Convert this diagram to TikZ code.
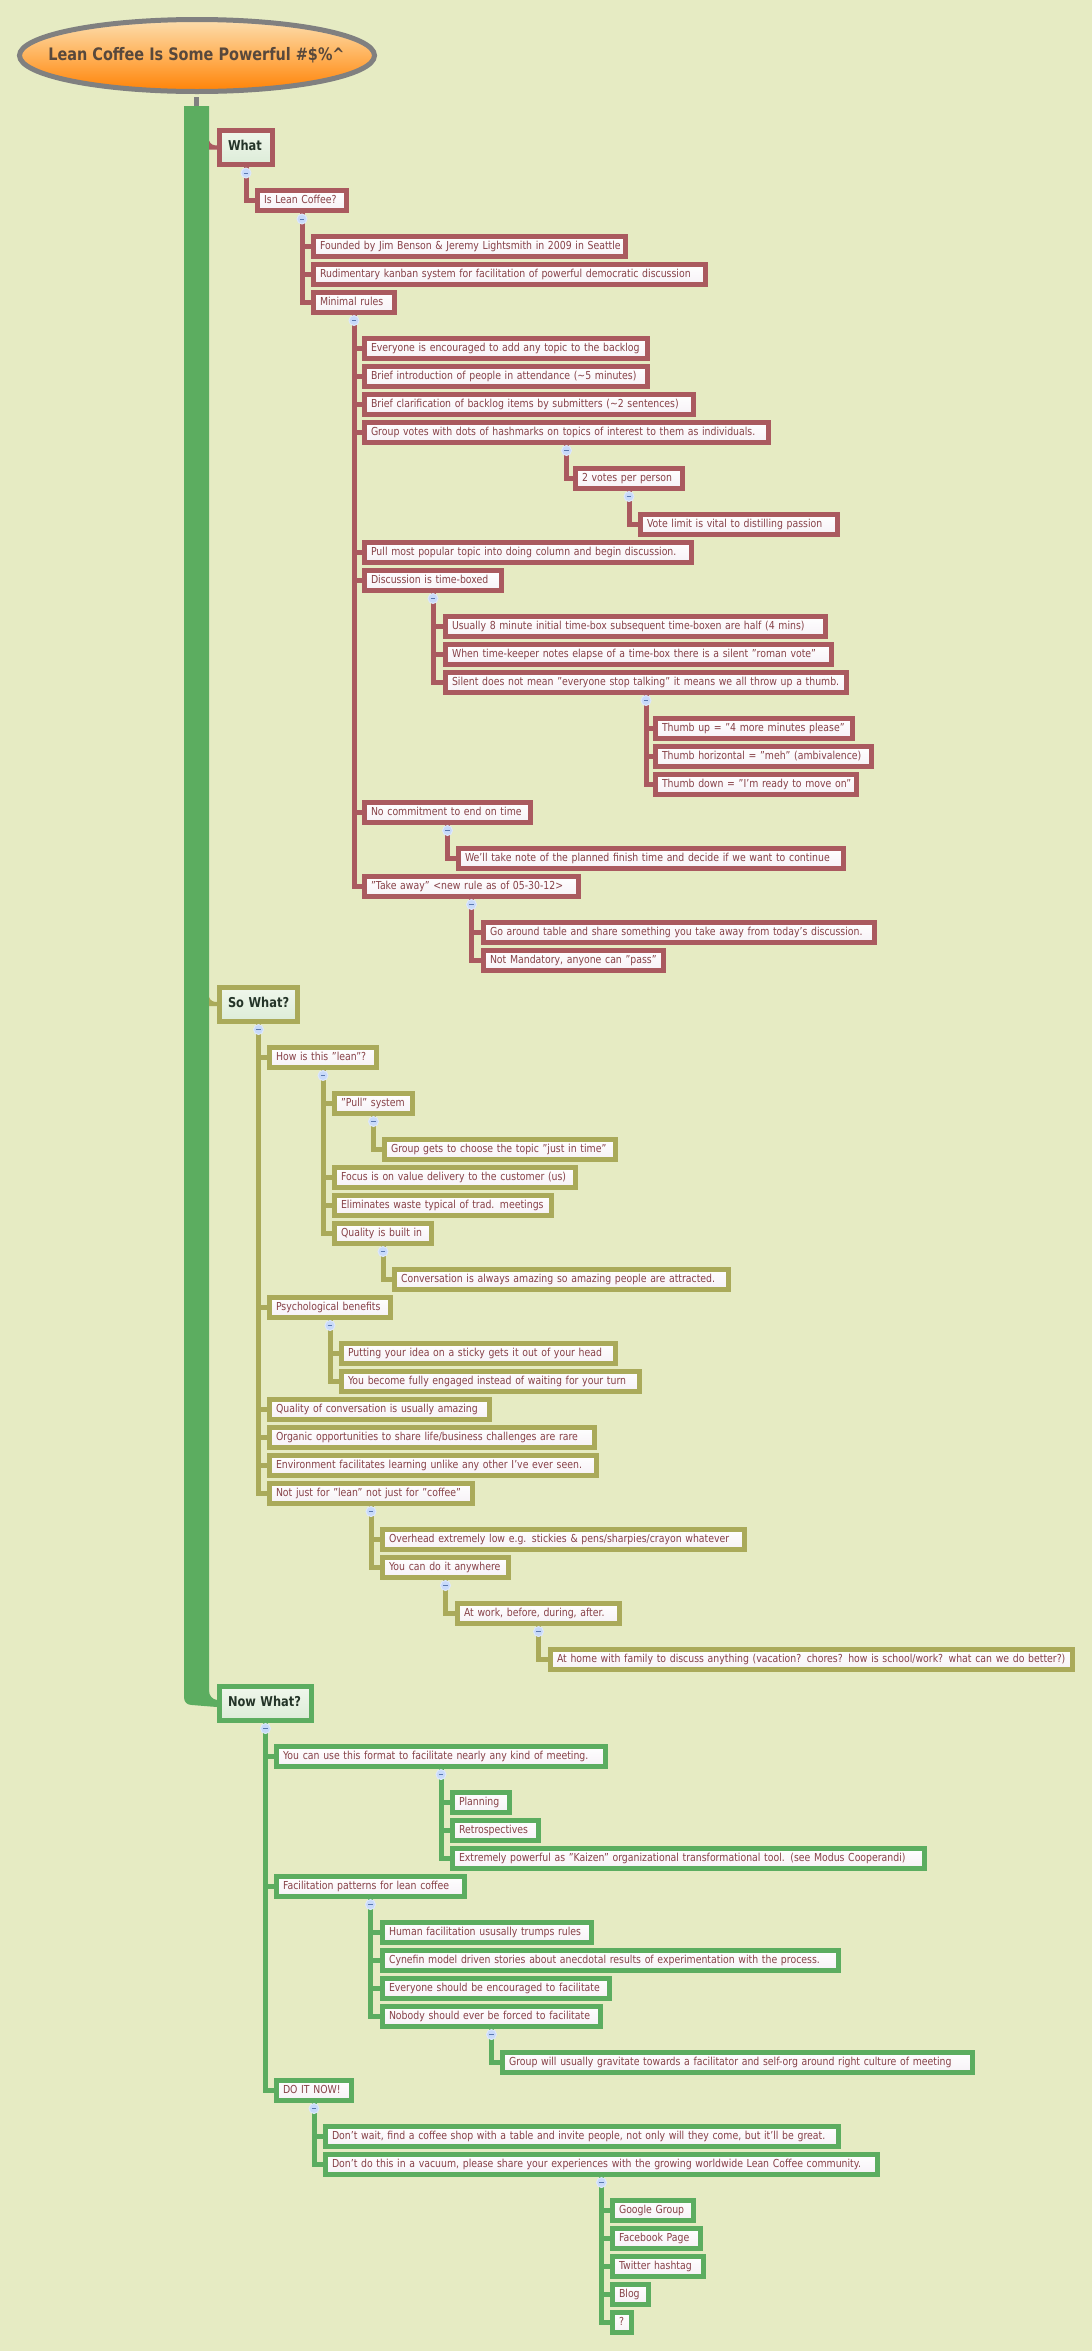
\documentclass[tikz,border=0pt]{standalone}
\usepackage{fontspec}
\setmainfont{DejaVu Sans}[FakeStretch=0.85]
\newfontfamily\headfont{DejaVu Sans Bold}[FakeStretch=0.84]
\usetikzlibrary{shapes.geometric}
\definecolor{paper}{RGB}{230,235,195}
\definecolor{redline}{RGB}{170,90,95}
\definecolor{oliveline}{RGB}{170,170,90}
\definecolor{greenline}{RGB}{92,173,96}
\definecolor{rootline}{RGB}{128,128,128}
\definecolor{subtext}{RGB}{135,66,72}
\definecolor{subshade}{RGB}{246,241,246}
\definecolor{roottop}{RGB}{252,222,175}
\definecolor{rootmid}{RGB}{255,178,90}
\definecolor{rootlow}{RGB}{255,130,5}
\definecolor{roottext}{RGB}{88,72,60}
\definecolor{headtop}{RGB}{240,247,236}
\definecolor{headlow}{RGB}{220,236,216}
\definecolor{headtext}{RGB}{36,52,40}
\definecolor{btnfill}{RGB}{200,218,250}
\definecolor{btnline}{RGB}{222,232,250}
\definecolor{btnminus}{RGB}{90,120,175}
\tikzset{
    root/.style={ellipse, draw=rootline, line width=2.5pt, inner sep=0pt, minimum width=177.5pt, minimum height=36pt,
        top color=roottop, bottom color=rootlow, middle color=rootmid},
    roottitle/.style={inner sep=0pt, text=roottext, font=\headfont\fontsize{8.6}{10}\selectfont},
    head/.style={draw=#1, line width=2.5pt, anchor=west, inner xsep=4.25pt, inner ysep=0pt, minimum height=17pt,
        text depth=2pt, text height=5pt, top color=headtop, bottom color=headlow, text=headtext,
        font=\headfont\fontsize{6.8}{9}\selectfont,
        execute at begin node=\hbox\bgroup, execute at end node=\egroup},
    sub/.style={draw=#1, line width=2.5pt, anchor=west, inner xsep=3.25pt, inner ysep=0pt, minimum height=10pt,
        text depth=2pt, text height=5pt, top color=white, bottom color=subshade, text=subtext,
        font=\fontsize{5.5}{6.5}\selectfont,
        execute at begin node=\hbox\bgroup, execute at end node=\egroup},
    wide/.style={text width=(#1-18)*.5pt},
    headwide/.style={text width=(#1-22)*.5pt},
    toggle/.style={circle, draw=btnline, line width=.5pt, fill=btnfill, inner sep=0pt, minimum size=5pt,
        path picture={\draw[btnminus, line width=.35pt] ([xshift=-1.1pt]path picture bounding box.center) -- ([xshift=1.1pt]path picture bounding box.center);}},
}
\begin{document}
\begin{tikzpicture}[x=.5pt, y=-.5pt]
    \useasboundingbox (0,0) rectangle (1092,2351);
    \fill[paper] (0,0) rectangle (1092,2351);

    % trunk
    \node[root] (lean) at (197,55.5) {};
    \node[roottitle] (leantitle) at (196.5,55) {Lean Coffee Is Some Powerful \#\$\%\^{}};
    \coordinate (trunktop) at (196,106);
    \draw[rootline, line width=2.5pt, shorten <=1.5pt] (lean.south -| trunktop) -- (trunktop);

    \node[head=redline, headwide=58] (what) at (217,147.5) {What};
    \node[head=oliveline, headwide=83] (sowhat) at (217,1004) {So What?};
    \node[head=greenline, headwide=97] (nowwhat) at (217,1703) {Now What?};

    \fill[greenline] (184,106) -- (209,106) -- (209,1690) .. controls (209,1696) and (212,1699) .. ([yshift=1.5pt]nowwhat.west)
        -- ([yshift=-1pt]nowwhat.west |- 0,1705) -- (192,1705) .. controls (187,1705) and (184,1702) .. (184,1697) -- cycle;
    \fill[redline] ([shift={(-8,-7)}]what.west) .. controls ([shift={(-7,-3)}]what.west) and ([shift={(-3,-2)}]what.west) .. ([shift={(0,-2)}]what.west)
        -- ([shift={(0,2)}]what.west) -- ([shift={(-8,2)}]what.west) -- cycle;
    \fill[oliveline] ([shift={(-8,-7)}]sowhat.west) .. controls ([shift={(-7,-3)}]sowhat.west) and ([shift={(-3,-2)}]sowhat.west) .. ([shift={(0,-2)}]sowhat.west)
        -- ([shift={(0,2)}]sowhat.west) -- ([shift={(-8,2)}]sowhat.west) -- cycle;

    % what
    \node[sub=redline, wide=94] (islean) at (255,200.5) {Is Lean Coffee?};
    \node[sub=redline, wide=317] (founded) at (311,246) {Founded by Jim Benson \& Jeremy Lightsmith in 2009 in Seattle};
    \node[sub=redline, wide=397] (kanban) at (311,274) {Rudimentary kanban system for facilitation of powerful democratic discussion};
    \node[sub=redline, wide=86] (minimal) at (311,302) {Minimal rules};
    \node[sub=redline, wide=288] (anytopic) at (362,348) {Everyone is encouraged to add any topic to the backlog};
    \node[sub=redline, wide=288] (intro) at (362,376) {Brief introduction of people in attendance (\textasciitilde5 minutes)};
    \node[sub=redline, wide=334] (clarify) at (362,404) {Brief clarification of backlog items by submitters (\textasciitilde2 sentences)};
    \node[sub=redline, wide=409] (votes) at (362,432) {Group votes with dots of hashmarks on topics of interest to them as individuals.};
    \node[sub=redline, wide=112] (twovotes) at (573,478) {2 votes per person};
    \node[sub=redline, wide=202] (limit) at (638,524) {Vote limit is vital to distilling passion};
    \node[sub=redline, wide=332] (pull) at (362,552) {Pull most popular topic into doing column and begin discussion.};
    \node[sub=redline, wide=142] (boxed) at (362,580) {Discussion is time-boxed};
    \node[sub=redline, wide=385] (usually) at (443,626) {Usually 8 minute initial time-box subsequent time-boxen are half (4 mins)};
    \node[sub=redline, wide=391] (keeper) at (443,654) {When time-keeper notes elapse of a time-box there is a silent "roman vote"};
    \node[sub=redline, wide=406] (silent) at (443,682) {Silent does not mean "everyone stop talking" it means we all throw up a thumb.};
    \node[sub=redline, wide=202] (thumbup) at (653,728) {Thumb up = "4 more minutes please"};
    \node[sub=redline, wide=221] (thumbside) at (653,756) {Thumb horizontal = "meh" (ambivalence)};
    \node[sub=redline, wide=206] (thumbdown) at (653,784) {Thumb down = "I'm ready to move on"};
    \node[sub=redline, wide=171] (nocommit) at (362,812) {No commitment to end on time};
    \node[sub=redline, wide=390] (finish) at (456,858) {We'll take note of the planned finish time and decide if we want to continue};
    \node[sub=redline, wide=219] (takeaway) at (362,886) {"Take away" <new rule as of 05-30-12>};
    \node[sub=redline, wide=396] (goaround) at (481,932) {Go around table and share something you take away from today's discussion.};
    \node[sub=redline, wide=185] (mandatory) at (481,960) {Not Mandatory, anyone can "pass"};

    % so what
    \node[sub=oliveline, wide=112] (howlean) at (267,1057) {How is this "lean"?};
    \node[sub=oliveline, wide=83] (pullsys) at (332,1103) {"Pull" system};
    \node[sub=oliveline, wide=236] (choose) at (382,1149) {Group gets to choose the topic "just in time"};
    \node[sub=oliveline, wide=246] (focus) at (332,1177) {Focus is on value delivery to the customer (us)};
    \node[sub=oliveline, wide=222] (waste) at (332,1205) {Eliminates waste typical of trad. meetings};
    \node[sub=oliveline, wide=102] (builtin) at (332,1233) {Quality is built in};
    \node[sub=oliveline, wide=339] (amazing) at (392,1279) {Conversation is always amazing so amazing people are attracted.};
    \node[sub=oliveline, wide=126] (psych) at (267,1307) {Psychological benefits};
    \node[sub=oliveline, wide=279] (sticky) at (339,1353) {Putting your idea on a sticky gets it out of your head};
    \node[sub=oliveline, wide=303] (engaged) at (339,1381) {You become fully engaged instead of waiting for your turn};
    \node[sub=oliveline, wide=225] (quality) at (267,1409) {Quality of conversation is usually amazing};
    \node[sub=oliveline, wide=330] (organic) at (267,1437) {Organic opportunities to share life/business challenges are rare};
    \node[sub=oliveline, wide=332] (environ) at (267,1465) {Environment facilitates learning unlike any other I've ever seen.};
    \node[sub=oliveline, wide=208] (notjust) at (267,1493) {Not just for "lean" not just for "coffee"};
    \node[sub=oliveline, wide=367] (overhead) at (380,1539) {Overhead extremely low e.g. stickies \& pens/sharpies/crayon whatever};
    \node[sub=oliveline, wide=131] (anywhere) at (380,1567) {You can do it anywhere};
    \node[sub=oliveline, wide=167] (atwork) at (455,1613) {At work, before, during, after.};
    \node[sub=oliveline, wide=527] (athome) at (548,1659) {At home with family to discuss anything (vacation? chores? how is school/work? what can we do better?)};

    % now what
    \node[sub=greenline, wide=334] (format) at (274,1756) {You can use this format to facilitate nearly any kind of meeting.};
    \node[sub=greenline, wide=62] (planning) at (450,1802) {Planning};
    \node[sub=greenline, wide=91] (retro) at (450,1830) {Retrospectives};
    \node[sub=greenline, wide=477] (kaizen) at (450,1858) {Extremely powerful as "Kaizen" organizational transformational tool. (see Modus Cooperandi)};
    \node[sub=greenline, wide=193] (patterns) at (274,1886) {Facilitation patterns for lean coffee};
    \node[sub=greenline, wide=214] (human) at (380,1932) {Human facilitation ususally trumps rules};
    \node[sub=greenline, wide=461] (cynefin) at (380,1960) {Cynefin model driven stories about anecdotal results of experimentation with the process.};
    \node[sub=greenline, wide=232] (encouraged) at (380,1988) {Everyone should be encouraged to facilitate};
    \node[sub=greenline, wide=223] (nobody) at (380,2016) {Nobody should ever be forced to facilitate};
    \node[sub=greenline, wide=475] (gravitate) at (500,2062) {Group will usually gravitate towards a facilitator and self-org around right culture of meeting};
    \node[sub=greenline, wide=80] (doitnow) at (274,2090) {DO IT NOW!};
    \node[sub=greenline, wide=518] (dontwait) at (323,2136) {Don't wait, find a coffee shop with a table and invite people, not only will they come, but it'll be great.};
    \node[sub=greenline, wide=557] (vacuum) at (323,2164) {Don't do this in a vacuum, please share your experiences with the growing worldwide Lean Coffee community.};
    \node[sub=greenline, wide=86] (google) at (610,2210) {Google Group};
    \node[sub=greenline, wide=93] (facebook) at (610,2238) {Facebook Page};
    \node[sub=greenline, wide=96] (twitter) at (610,2266) {Twitter hashtag};
    \node[sub=greenline, wide=41] (blog) at (610,2294) {Blog};
    \node[sub=greenline, wide=24] (qmark) at (610,2322) {?};

    % connectors
    \foreach \p/\c in {what/islean, islean/founded, islean/kanban, islean/minimal, minimal/anytopic, minimal/intro, minimal/clarify,
        minimal/votes, votes/twovotes, twovotes/limit, minimal/pull, minimal/boxed, boxed/usually, boxed/keeper, boxed/silent,
        silent/thumbup, silent/thumbside, silent/thumbdown, minimal/nocommit, nocommit/finish, minimal/takeaway, takeaway/goaround, takeaway/mandatory}
        \draw[redline, line width=2.5pt] (\p.south) |- (\c.west);
    \foreach \p/\c in {sowhat/howlean, howlean/pullsys, pullsys/choose, howlean/focus, howlean/waste, howlean/builtin, builtin/amazing,
        sowhat/psych, psych/sticky, psych/engaged, sowhat/quality, sowhat/organic, sowhat/environ, sowhat/notjust,
        notjust/overhead, notjust/anywhere, anywhere/atwork, atwork/athome}
        \draw[oliveline, line width=2.5pt] (\p.south) |- (\c.west);
    \foreach \p/\c in {nowwhat/format, format/planning, format/retro, format/kaizen, nowwhat/patterns, patterns/human, patterns/cynefin,
        patterns/encouraged, patterns/nobody, nobody/gravitate, nowwhat/doitnow, doitnow/dontwait, doitnow/vacuum,
        vacuum/google, vacuum/facebook, vacuum/twitter, vacuum/blog, vacuum/qmark}
        \draw[greenline, line width=2.5pt] (\p.south) |- (\c.west);

    % collapse buttons
    \foreach \p in {what, islean, minimal, votes, twovotes, boxed, silent, nocommit, takeaway,
        sowhat, howlean, pullsys, builtin, psych, notjust, anywhere, atwork,
        nowwhat, format, patterns, nobody, doitnow, vacuum}
        \node[toggle] (btn\p) at ([yshift=-3pt]\p.south) {};
\end{tikzpicture}
\end{document}
